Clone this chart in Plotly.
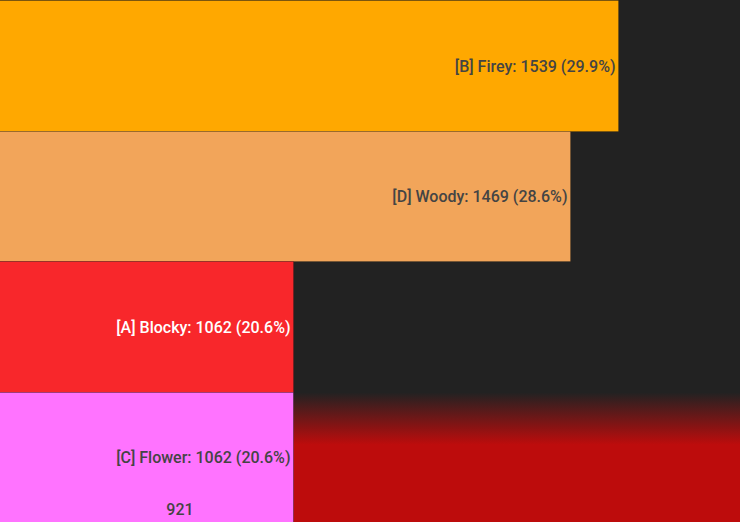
import plotly.graph_objects as go

# bar data, top to bottom
categories = ["[B] Firey", "[D] Woody", "[A] Blocky", "[C] Flower"]
values = [1539, 1469, 1062, 1062]
shares = [29.9, 28.6, 20.6, 20.6]
bar_colors = ["#ffa800", "#f2a55a", "#f8272b", "#ff73ff"]
text_colors = ["#444444", "#444444", "#ffffff", "#444444"]

# value shown near the bottom of the frame
extra_value = 921

x_min, x_max = 631, 1717

labels = [f"{c}: {v} ({s}%)" for c, v, s in zip(categories, values, shares)]

bars = go.Bar(
    y=list(range(len(categories))),
    x=values,
    base=0,
    orientation="h",
    width=1,
    marker=dict(color=bar_colors, line=dict(color="rgba(0,0,0,0.15)", width=1)),
    text=labels,
    textposition="inside",
    insidetextanchor="end",
    textangle=0,
    textfont=dict(family="Roboto", size=16, color=text_colors, weight=500),
    cliponaxis=True,
    hoverinfo="skip",
)

# red glow to the right of the last bar
last = len(categories) - 1
glow = go.Scatter(
    x=[values[last], x_max + 50, x_max + 50, values[last], values[last]],
    y=[last - 0.5, last - 0.5, last + 1, last + 1, last - 0.5],
    mode="none",
    fill="toself",
    fillgradient=dict(
        type="vertical",
        colorscale=[[0, "#222222"], [1, "#bd0c0c"]],
        start=last - 0.5,
        stop=last - 0.1,
    ),
    hoverinfo="skip",
)

extra = go.Scatter(
    x=[extra_value],
    y=[last + 0.41],
    mode="text",
    text=[str(extra_value) + "\u00a0"],
    textposition="middle left",
    textfont=dict(family="Roboto", size=16, color="#444444", weight=500),
    hoverinfo="skip",
)

fig = go.Figure(data=[glow, bars, extra])
fig.update_layout(
    width=740,
    height=522,
    margin=dict(l=0, r=0, t=0, b=0),
    paper_bgcolor="#222222",
    plot_bgcolor="#222222",
    showlegend=False,
    bargap=0,
    xaxis=dict(range=[x_min, x_max], visible=False, showgrid=False, zeroline=False),
    yaxis=dict(range=[3.492, -0.508], visible=False, showgrid=False, zeroline=False),
)

fig.write_html(
    "out.html",
    config={"displayModeBar": False},
    post_script="document.body.style.margin='0';",
)
